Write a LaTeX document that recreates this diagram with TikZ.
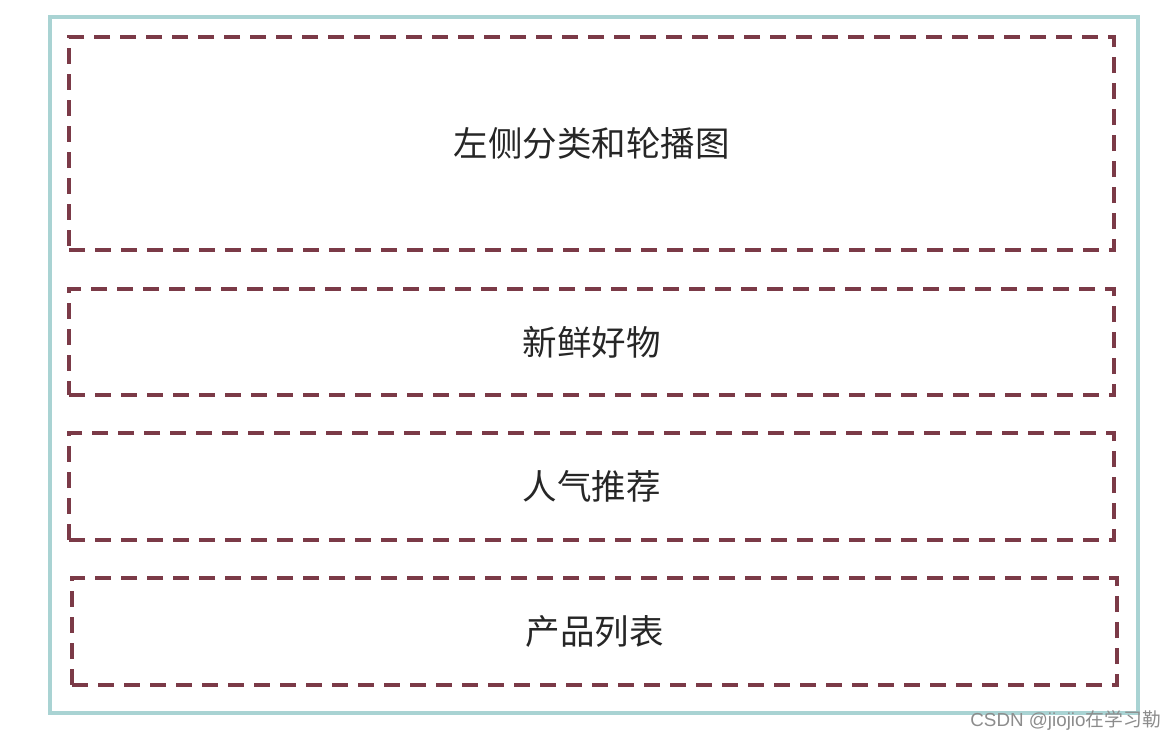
\documentclass[tikz,border=0pt]{standalone}
\usepackage{fontspec}
\setmainfont{Noto Sans CJK SC}
\newfontfamily\cjk{Noto Sans CJK SC}
\newfontfamily\latinfont{Liberation Sans}
\definecolor{frameteal}{HTML}{A9D3D3}
\definecolor{boxred}{HTML}{7B3A47}

\begin{document}
\begin{tikzpicture}[x=1pt,y=-1pt,
   area/.style={draw=boxred,line width=3.2pt,dash pattern=on 16pt off 10pt,
      minimum width=1045pt,font=\cjk\fontsize{34.5}{40}\selectfont,text=black!85},
   mark text/.style={font=\fontsize{18.8}{22}\selectfont,text=black!45}]

\useasboundingbox (0,0) rectangle (1176,740);
\draw[frameteal,line width=3.2pt] (50,17) rectangle (1138,713);

\node[area,minimum height=213pt] (carousel) at (591.5,143.5) {左侧分类和轮播图};
\node[area,minimum height=106pt] (fresh) at (591.5,342) {新鲜好物};
\node[area,minimum height=107pt] (popular) at (591.5,486.5) {人气推荐};
\node[area,minimum height=107pt] (products) at (594.5,631.5) {产品列表};

\node[mark text,anchor=east,inner sep=0pt] (watermark) at (1161,720)
   {{\latinfont CSDN @jiojio}在学习勒};

\end{tikzpicture}
\end{document}
